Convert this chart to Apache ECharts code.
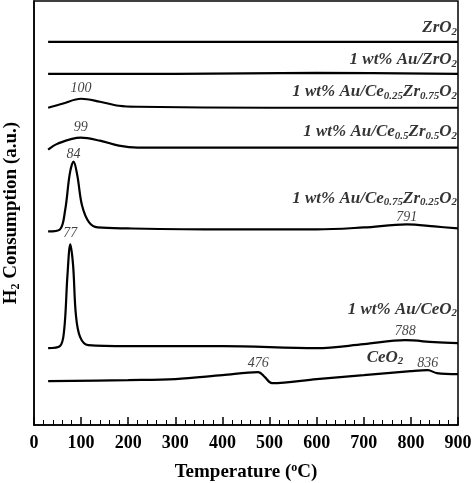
<!DOCTYPE html>
<html><head><meta charset="utf-8">
<script src="https://cdn.jsdelivr.net/npm/echarts@6/dist/echarts.min.js"></script>
<style>html,body{margin:0;padding:0;background:#fff}#c{width:474px;height:483px}</style>
</head><body><div id="c"></div>
<script>
const xTicks = [0,100,200,300,400,500,600,700,800,900];
const zrO2 = [[30,384],[300,384],[600,384],[900,384]];
const auZrO2 = [[30,352],[300,352],[600,353],[900,352]];
const auCe25 = [[30,318],[60,322],[100,327],[140,324],[180,320],[220,319],[500,318],[900,318]];
const auCe50 = [[30,276],[50,282],[99,288],[140,285],[180,280],[220,278],[500,278],[900,278]];
const auCe75 = [[30,194],[55,196],[66,215],[76,252],[84,264],[92,250],[102,220],[117,203],[135,198],[200,197],[400,196],[600,196],[700,198],[791,201],[850,199],[900,197]];
const auCeO2 = [[30,77],[55,79],[64,95],[71,150],[77,181],[83,160],[89,110],[98,88],[115,80],[200,79],[400,79],[600,77],[700,81],[788,85],[850,83],[900,82]];
const ceO2 = [[30,44],[200,45],[300,46],[400,50],[476,53],[490,48],[505,42],[600,46],[700,50],[800,54],[836,55],[855,52],[900,51]];
const peakLabels = [['100',100,337],['99',99,298],['84',84,271],['791',791,208],['77',77,192],['788',788,94],['476',476,62],['836',836,62]];
const seriesNames = [
 ['{b|ZrO}{s|2}',398],
 ['{b|1 wt% Au/ZrO}{s|2}',366],
 ['{b|1 wt% Au/Ce}{s|0.25}{b|Zr}{s|0.75}{b|O}{s|2}',334],
 ['{b|1 wt% Au/Ce}{s|0.5}{b|Zr}{s|0.5}{b|O}{s|2}',294],
 ['{b|1 wt% Au/Ce}{s|0.75}{b|Zr}{s|0.25}{b|O}{s|2}',227],
 ['{b|1 wt% Au/CeO}{s|2}',116]
];
const F='Liberation Serif';
const rich={b:{fontFamily:F,fontWeight:'bold',fontStyle:'italic',fontSize:17,color:'#000'},
            s:{fontFamily:F,fontWeight:'bold',fontStyle:'italic',fontSize:11,color:'#000',padding:[8,0,0,0]}};
const line=(d)=>({type:'line',data:d,smooth:0.35,showSymbol:false,lineStyle:{color:'#000',width:2.2},silent:true});
const series=[zrO2,auZrO2,auCe25,auCe50,auCe75,auCeO2,ceO2].map(line);
series.push({type:'scatter',symbolSize:0,silent:true,
  data:peakLabels.map(p=>({value:[p[1],p[2]],label:{show:true,formatter:p[0],position:'inside',fontFamily:F,fontStyle:'italic',fontSize:14,color:'#111'}}))});
series.push({type:'scatter',symbolSize:0,silent:true,
  data:seriesNames.map(p=>({value:[898,p[1]],label:{show:true,formatter:p[0],position:'left',distance:0,rich:rich}}))
   .concat([{value:[745,68],label:{show:true,formatter:'{b|CeO}{s|2}',position:'inside',rich:rich}}])});
const chart=echarts.init(document.getElementById('c'));
chart.setOption({
 animation:false,
 grid:{left:34,right:16,top:1,bottom:58,show:true,borderColor:'#000',borderWidth:1.5,containLabel:false,outerBoundsMode:'none'},
 xAxis:{type:'value',min:0,max:900,interval:100,
  axisLine:{lineStyle:{color:'#000',width:1.5}},
  axisTick:{inside:true,length:8,lineStyle:{color:'#000',width:1.5}},
  minorTick:{show:true,splitNumber:5,length:5,lineStyle:{color:'#000',width:1}},
  splitLine:{show:false},
  axisLabel:{fontFamily:F,fontWeight:'bold',fontSize:18,color:'#000',margin:9},
  name:'{b|Temperature (}{p|o}{b|C)}',nameLocation:'middle',nameGap:37,
  nameTextStyle:{rich:{b:{fontFamily:F,fontWeight:'bold',fontSize:19,color:'#000'},p:{fontFamily:F,fontWeight:'bold',fontSize:12,color:'#000',padding:[0,0,9,0]}}}},
 yAxis:{type:'value',min:0,max:425,axisLabel:{show:false},axisTick:{show:false},splitLine:{show:false},
  axisLine:{lineStyle:{color:'#000',width:1.5}},
  name:'{b|H}{s|2}{b| Consumption (a.u.)}',nameLocation:'middle',nameGap:12,nameRotate:90,
  nameTextStyle:{rich:{b:{fontFamily:F,fontWeight:'bold',fontSize:19,color:'#000'},s:{fontFamily:F,fontWeight:'bold',fontSize:12,color:'#000',padding:[9,0,0,0]}}}},
 series:series
});
</script></body></html>
